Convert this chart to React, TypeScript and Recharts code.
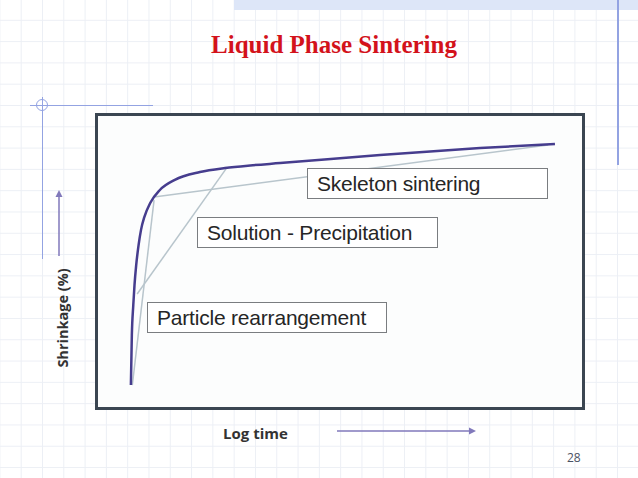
import React from "react";
import { LineChart, Line, XAxis, YAxis } from "recharts";

// log time (0-100 across the frame) vs shrinkage (0-100 up the frame)
const curveTime = [6.6, 6.8, 7.1, 7.35, 7.7, 8.2, 8.7, 9.4, 10.6, 12.6, 15.7, 20.9, 26.1, 31.3, 37.5, 58.2, 78.9, 94.4];
const curveShrinkage = [6.9, 24.2, 34.6, 41.5, 48.4, 55.4, 60.6, 65.1, 69.9, 74.4, 77.9, 80.6, 82.0, 82.9, 83.7, 86.5, 88.9, 90.3];

// straight tangent lines for the three stages
const rearrangeTime = [6.9, 11.4];
const rearrangeShrinkage = [6.9, 70.9];
const solutionTime = [7.9, 26.3];
const solutionShrinkage = [38.4, 81.7];
const skeletonTime = [11.4, 93.0];
const skeletonShrinkage = [72.0, 90.0];

const stageLabels = ["Skeleton sintering", "Solution - Precipitation", "Particle rearrangement"];

const toPoints = (xs: number[], ys: number[]) => xs.map((x, i) => ({ x, y: ys[i] }));

const curveData = toPoints(curveTime, curveShrinkage);
const rearrangeData = toPoints(rearrangeTime, rearrangeShrinkage);
const solutionData = toPoints(solutionTime, solutionShrinkage);
const skeletonData = toPoints(skeletonTime, skeletonShrinkage);

const gridColor = "#eceff5";
const decoBlue = "#93a3e2";
const arrowColor = "#8179bb";

function StageBox({ text, left, top, width }: { text: string; left: number; top: number; width: number }) {
  return (
    <div
      style={{
        position: "absolute",
        left,
        top,
        width,
        height: 31,
        boxSizing: "border-box",
        border: "1.5px solid #7a7d80",
        background: "#ffffff",
        fontFamily: "'Liberation Sans', Arial, sans-serif",
        fontSize: 21,
        lineHeight: "29px",
        paddingLeft: 9,
        color: "#262626",
        letterSpacing: -0.2,
        whiteSpace: "nowrap",
      }}
    >
      {text}
    </div>
  );
}

export default function App() {
  return (
    <div
      style={{
        position: "absolute",
        left: 0,
        top: 0,
        width: 638,
        height: 478,
        overflow: "hidden",
        background: "#ffffff",
        backgroundImage: `linear-gradient(to right, ${gridColor} 1px, transparent 1px), linear-gradient(to bottom, ${gridColor} 1px, transparent 1px)`,
        backgroundSize: "21.3px 21.3px",
        backgroundPosition: "42px 105px",
      }}
    >
      {/* slide decoration */}
      <div style={{ position: "absolute", left: 234, top: 0, width: 404, height: 10, background: "#dde6f8" }} />
      <div style={{ position: "absolute", left: 617, top: 0, width: 1.5, height: 165, background: decoBlue }} />
      <div style={{ position: "absolute", left: 30, top: 105, width: 123, height: 1, background: decoBlue }} />
      <div style={{ position: "absolute", left: 42, top: 97, width: 1, height: 162, background: decoBlue }} />
      <div
        style={{
          position: "absolute",
          left: 36,
          top: 99,
          width: 12,
          height: 12,
          boxSizing: "border-box",
          border: `1px solid ${decoBlue}`,
          borderRadius: "50%",
        }}
      />

      <div
        style={{
          position: "absolute",
          left: 134,
          top: 31,
          width: 400,
          textAlign: "center",
          fontFamily: "'Liberation Serif', 'Times New Roman', serif",
          fontWeight: 700,
          fontSize: 25,
          color: "#d3121b",
        }}
      >
        Liquid Phase Sintering
      </div>

      {/* chart frame */}
      <div
        style={{
          position: "absolute",
          left: 95,
          top: 113,
          width: 490,
          height: 297,
          boxSizing: "border-box",
          border: "3px solid #3b4652",
          background: "#fcfdfd",
        }}
      />
      <div style={{ position: "absolute", left: 99, top: 116 }}>
        <LineChart width={483} height={289} margin={{ top: 0, right: 0, bottom: 0, left: 0 }}>
          <XAxis type="number" dataKey="x" domain={[0, 100]} hide allowDataOverflow />
          <YAxis type="number" dataKey="y" domain={[0, 100]} hide allowDataOverflow />
          <Line data={rearrangeData} dataKey="y" type="linear" stroke="#b8c5cc" strokeWidth={1.5} dot={false} isAnimationActive={false} />
          <Line data={solutionData} dataKey="y" type="linear" stroke="#b8c5cc" strokeWidth={1.5} dot={false} isAnimationActive={false} />
          <Line data={skeletonData} dataKey="y" type="linear" stroke="#b8c5cc" strokeWidth={1.5} dot={false} isAnimationActive={false} />
          <Line data={curveData} dataKey="y" type="monotone" stroke="#463d8e" strokeWidth={2.5} dot={false} isAnimationActive={false} />
        </LineChart>
      </div>

      <StageBox text={stageLabels[0]} left={307} top={168} width={241} />
      <StageBox text={stageLabels[1]} left={197} top={217} width={241} />
      <StageBox text={stageLabels[2]} left={147} top={302} width={240} />

      {/* axis titles */}
      <div
        style={{
          position: "absolute",
          left: 62,
          top: 318,
          transform: "translate(-50%, -50%) rotate(-90deg)",
          fontFamily: "'Open Sans', sans-serif",
          fontWeight: 700,
          fontSize: 14.5,
          color: "#333333",
          whiteSpace: "nowrap",
        }}
      >
        Shrinkage (%)
      </div>
      <div
        style={{
          position: "absolute",
          left: 223,
          top: 423,
          fontFamily: "'Open Sans', sans-serif",
          fontWeight: 700,
          fontSize: 15,
          color: "#333333",
          whiteSpace: "nowrap",
        }}
      >
        Log time
      </div>
      <svg style={{ position: "absolute", left: 0, top: 0 }} width={638} height={478}>
        <line x1={59} y1={256} x2={59} y2={195} stroke={arrowColor} strokeWidth={1.5} />
        <polygon points="59,190 55.5,197 62.5,197" fill={arrowColor} />
        <line x1={337} y1={431} x2={470} y2={431} stroke={arrowColor} strokeWidth={1.5} />
        <polygon points="476,431 469,427.5 469,434.5" fill={arrowColor} />
      </svg>

      <div
        style={{
          position: "absolute",
          left: 567,
          top: 449,
          fontFamily: "'Open Sans', sans-serif",
          fontSize: 12,
          color: "#4b5263",
        }}
      >
        28
      </div>
    </div>
  );
}
